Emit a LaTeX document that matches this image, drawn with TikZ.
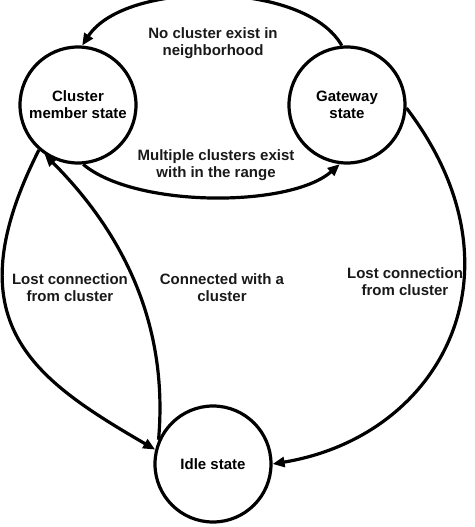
\documentclass[tikz,border=0pt]{standalone}
\usepackage{fontspec}
\setmainfont{Liberation Sans}
\usetikzlibrary{arrows.meta}
\begin{document}
\begin{tikzpicture}[x=1pt,y=-1pt,
  statebox/.style={circle,draw,line width=3.2pt,minimum size=116pt,inner sep=0pt,align=center,font=\bfseries\fontsize{15}{17}\selectfont},
  lbl/.style={align=center,font=\bfseries\fontsize{15}{17}\selectfont,text=black!90},
  conn/.style={line width=3.2pt,-{Triangle[length=12pt,width=10pt]}}]
\useasboundingbox (0,0) rectangle (474,527);
\node[statebox] (cm) at (78,105) {Cluster\\member state};
\node[statebox] (gw) at (347,105) {Gateway\\state};
\node[statebox] (idle) at (213,464) {Idle state};
% top arc
\draw[conn] (gw.95) .. controls (305,-20) and (125,-20) .. (cm.86);
% bottom arc
\draw[conn] (cm.-85) .. controls (135,208) and (290,208) .. (gw.-97);
% left arc
\draw[conn] (cm.229) .. controls (-48,322) and (32,378) .. (idle.166);
% connected arc
\draw[conn] (idle.156) .. controls (170,310) and (110,220) .. (cm.236);
% right arc
\draw[conn] (gw.-3) .. controls (530,270) and (442,436) .. (idle.0);
\node[lbl] (t1) at (213,43) {No cluster exist in\\neighborhood};
\node[lbl] (t2) at (216,165) {Multiple clusters exist\\with in the range};
\node[lbl] (t3) at (70,288) {Lost connection\\from cluster};
\node[lbl] (t4) at (222,288) {Connected with a\\cluster};
\node[lbl] (t5) at (405,282) {Lost connection\\from cluster};
\end{tikzpicture}
\end{document}
